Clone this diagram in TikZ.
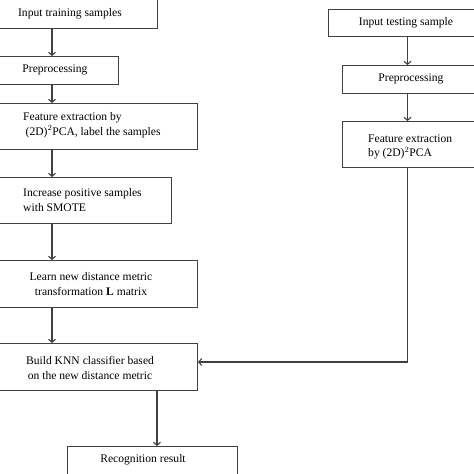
\documentclass[tikz,border=0pt]{standalone}
\usepackage{fontspec}
\setmainfont{Liberation Serif}
\usetikzlibrary{arrows.meta}
\tikzset{
  x=1pt, y=-1pt,
  box/.style={draw=black!75, line width=1.1pt, rectangle, inner sep=0pt},
  lbl/.style={inner sep=0pt, font=\fontsize{11.6}{14.5}\selectfont, text=black},
  arr/.style={draw=black!75, line width=1.1pt, -{Straight Barb[length=3pt,width=7pt]}},
}
\begin{document}
\begin{tikzpicture}
\useasboundingbox (0,0) rectangle (474,474);
\clip (0,0) rectangle (474,474);
% left column boxes
\node[box, minimum width=190pt, minimum height=33pt, anchor=north east] (b1) at (158,-5) {};
\node[box, minimum width=150pt, minimum height=28pt, anchor=north east] (b2) at (119,56) {};
\node[box, minimum width=230pt, minimum height=46pt, anchor=north east] (b3) at (198,103) {};
\node[box, minimum width=204pt, minimum height=46pt, anchor=north east] (b4) at (172,177) {};
\node[box, minimum width=230pt, minimum height=47pt, anchor=north east] (b5) at (198,260) {};
\node[box, minimum width=230pt, minimum height=47pt, anchor=north east] (b6) at (198,343) {};
\node[box, minimum width=170pt, minimum height=50pt, anchor=north west] (b7) at (67,446) {};
% right column boxes
\node[box, minimum width=170pt, minimum height=27pt, anchor=north west] (r1) at (328,9) {};
\node[box, minimum width=131.5pt, minimum height=28pt, anchor=north west] (r2) at (342,65) {};
\node[box, minimum width=131.5pt, minimum height=46pt, anchor=north west] (r3) at (342,121) {};
% texts
\node[lbl] (t1) at (70,14) {Input training samples};
\node[lbl] (t2) at (55,70) {Preprocessing};
\node[lbl, align=left, anchor=west] (t3) at (23,125) {Feature extraction by\\\hspace*{2.5pt}(2D)$^{2}$PCA, label the samples};
\node[lbl, align=left, anchor=west] (t4) at (23,200) {Increase positive samples\\with SMOTE};
\node[lbl, align=center] (t5) at (91,284) {Learn new distance metric\\transformation \textbf{L} matrix};
\node[lbl, align=center] (t6) at (90,368) {Build KNN classifier based\\on the new distance metric};
\node[lbl] (t7) at (143,460) {Recognition result};
\node[lbl] (tr1) at (406,23) {Input testing sample};
\node[lbl] (tr2) at (411,79) {Preprocessing};
\node[lbl, align=left, anchor=west] (tr3) at (368,147) {Feature extraction\\by (2D)$^{2}$PCA};
% connector coordinates
\coordinate (la) at (52,0);
\coordinate (lb) at (157,0);
\coordinate (ra) at (407.5,362);
% connectors
\draw[arr] (b1.south -| la) -- (b2.north -| la);
\draw[arr] (b2.south -| la) -- (b3.north -| la);
\draw[arr] (b3.south -| la) -- (b4.north -| la);
\draw[arr] (b4.south -| la) -- (b5.north -| la);
\draw[arr] (b5.south -| la) -- (b6.north -| la);
\draw[arr] (b6.south -| lb) -- (b7.north -| lb);
\draw[arr] (r1.south -| ra) -- (r2.north -| ra);
\draw[arr] (r2.south -| ra) -- (r3.north -| ra);
\draw[arr] (r3.south -| ra) |- (b6.east |- ra);
\end{tikzpicture}
\end{document}
